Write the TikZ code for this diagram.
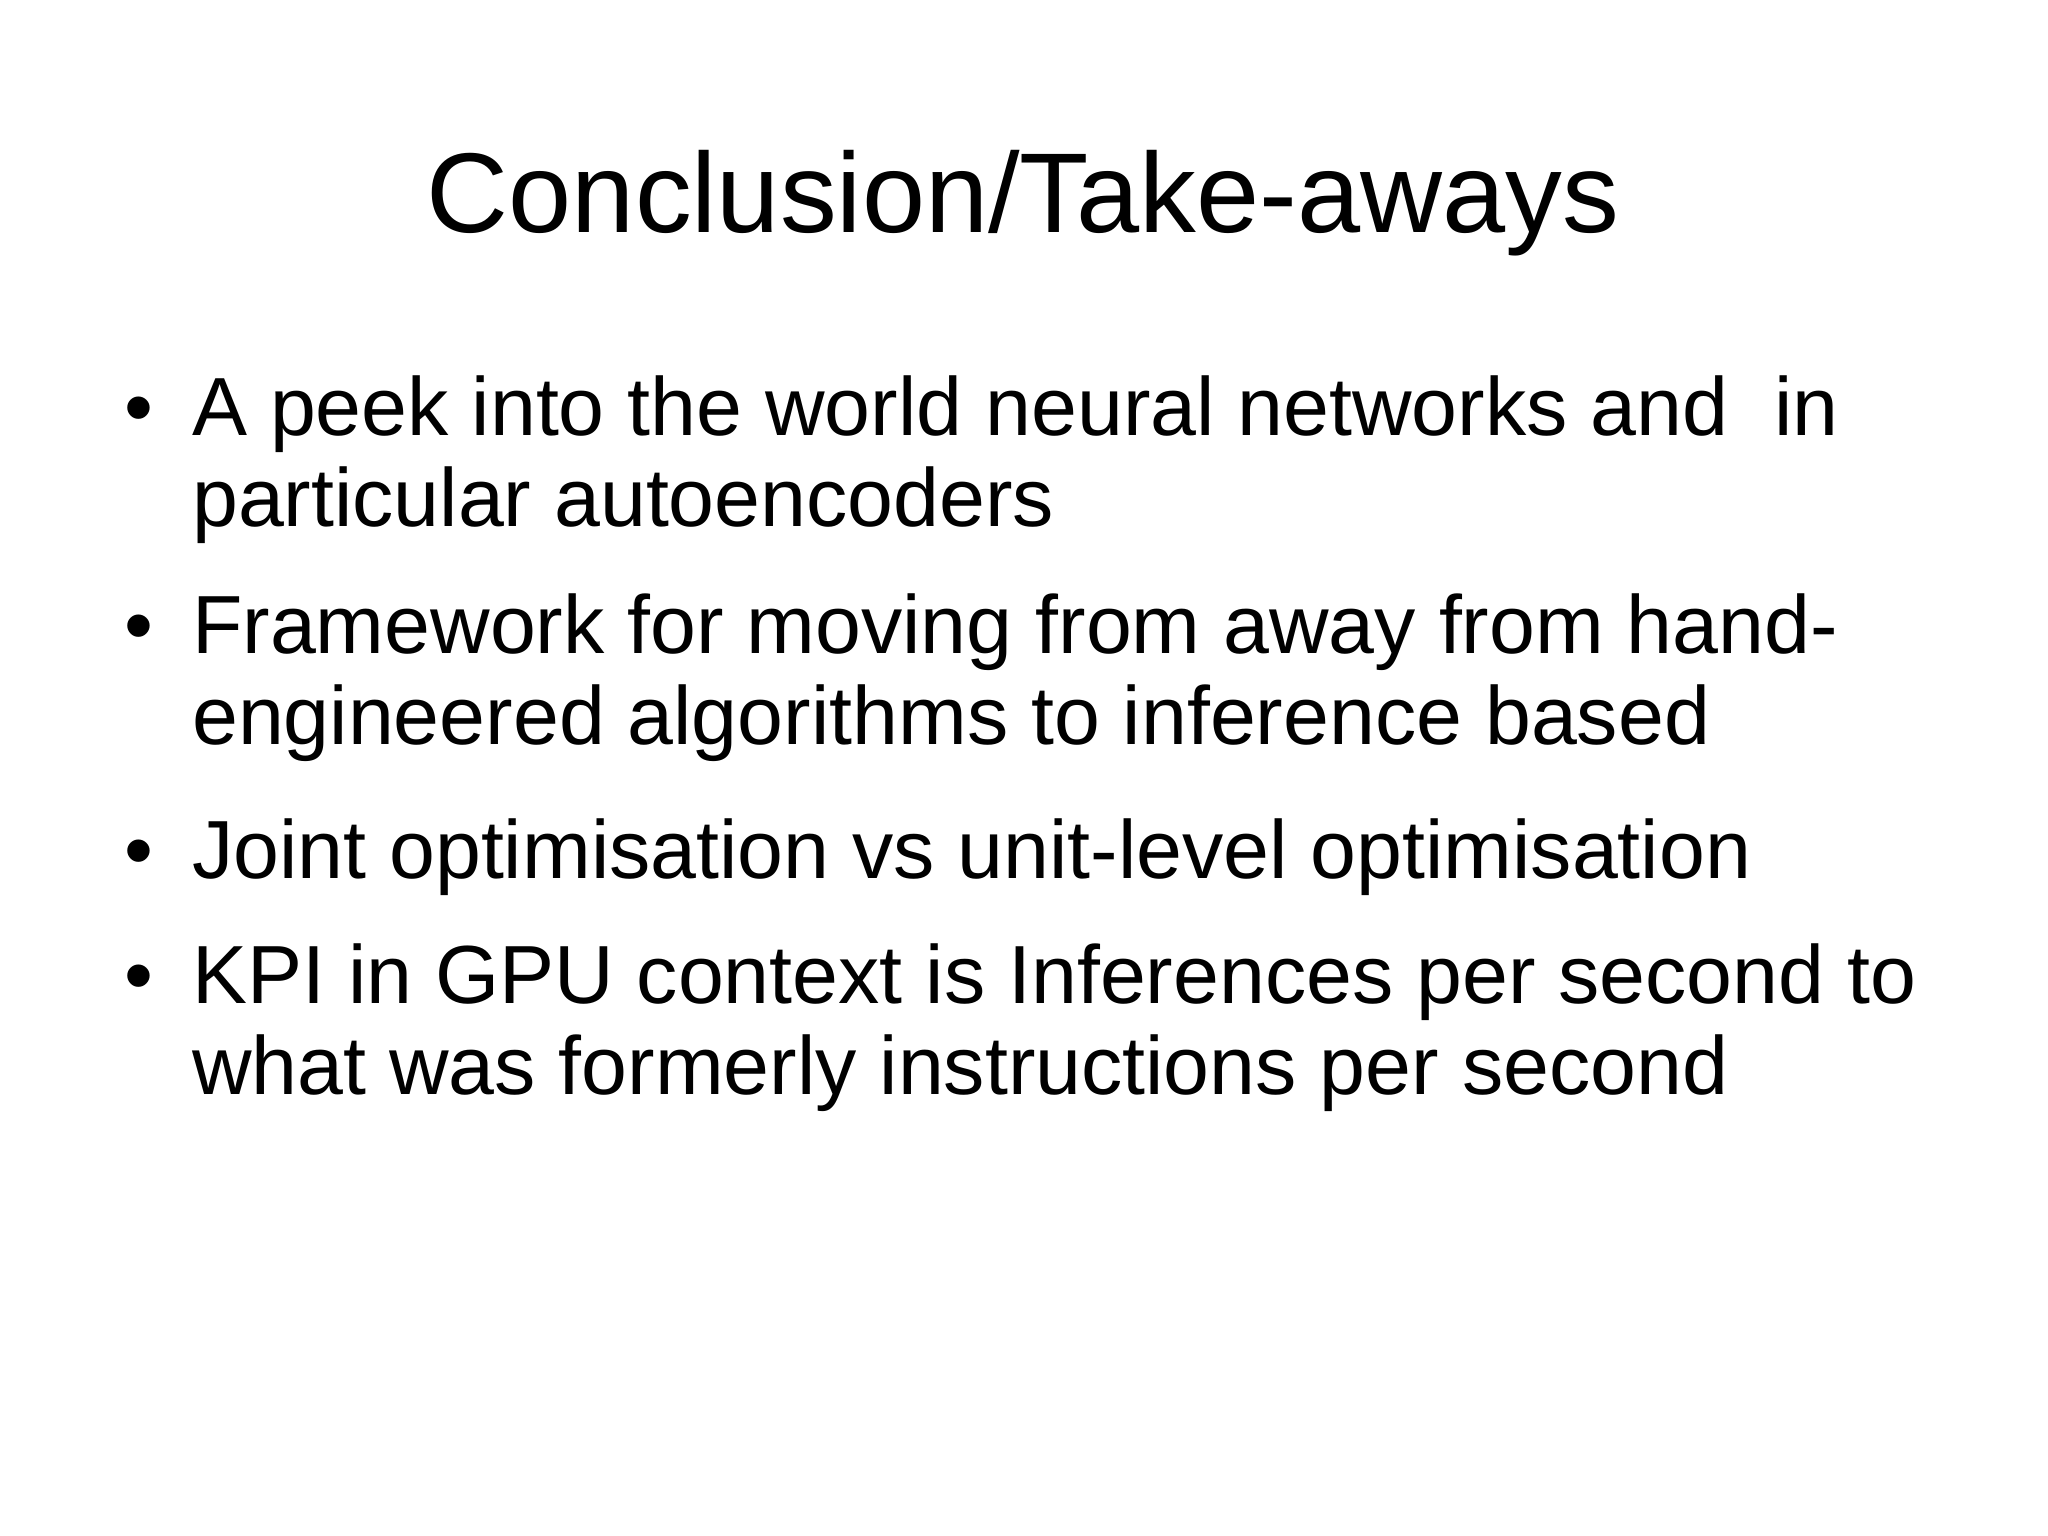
\documentclass[tikz,border=0pt]{standalone}
\usepackage{fontspec}
\setmainfont{Liberation Sans}
\begin{document}
\begin{tikzpicture}[x=1pt,y=-1pt,
  txt/.style={anchor=base west,inner sep=0pt,font=\fontsize{82.5}{91}\selectfont},
  bul/.style={anchor=base west,inner sep=0pt,font=\fontsize{82.5}{91}\selectfont}]
\useasboundingbox[fill=white] (0,0) rectangle (2048,1535);
\node[anchor=base,inner sep=0pt,font=\fontsize{113.5}{120}\selectfont] (title) at (1023,232) {Conclusion/Take-aways};
\node[bul] (b1) at (124,435) {•};
\node[txt] (t1a) at (192,435) {A peek into the world neural networks and\ \ in};
\node[txt] (t1b) at (192,526) {particular autoencoders};
\node[bul] (b2) at (124,653) {•};
\node[txt] (t2a) at (192,653) {Framework for moving from away from hand-};
\node[txt] (t2b) at (192,744) {engineered algorithms to inference based};
\node[bul] (b3) at (124,878) {•};
\node[txt] (t3a) at (192,878) {Joint optimisation vs unit-level optimisation};
\node[bul] (b4) at (124,1003) {•};
\node[txt] (t4a) at (192,1003) {KPI in GPU context is Inferences per second to};
\node[txt] (t4b) at (192,1094) {what was formerly instructions per second};
\end{tikzpicture}
\end{document}
